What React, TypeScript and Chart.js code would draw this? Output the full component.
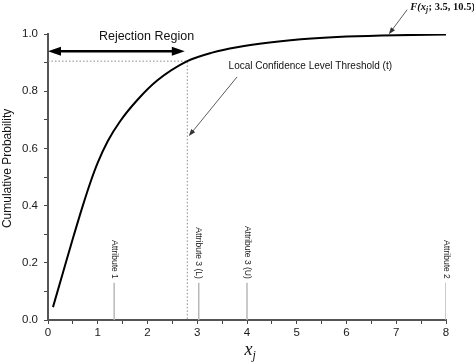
import React, { useEffect, useRef } from 'react';
import { Chart, registerables } from 'chart.js';

Chart.register(...registerables);

// ---- data ----
const curveX = [0.1, 0.3, 0.5, 0.7, 0.85, 1.0, 1.2, 1.45, 1.8, 2.2, 2.8, 3.3, 3.8, 4.5, 5.3, 6.0, 7.0, 8.0];
const curveY = [0.045, 0.165, 0.285, 0.40, 0.48, 0.55, 0.625, 0.695, 0.77, 0.838, 0.905, 0.935, 0.954, 0.971, 0.984, 0.991, 0.996, 0.998];

const thresholdX = 2.8;
const thresholdY = 0.905;

const attrNames = ['Attribute 1', 'Attribute 3 (L)', 'Attribute 3 (U)', 'Attribute 2'];
const attrX = [1.33, 3.03, 4.0, 8.0];
const attrTop = [0.13, 0.13, 0.13, 0.13];

const xTickLabels = ['0', '1', '2', '3', '4', '5', '6', '7', '8'];
const yTickLabels = ['0.0', '0.2', '0.4', '0.6', '0.8', '1.0'];

const yTitle = 'Cumulative Probability';
const rejectionLabel = 'Rejection Region';
const thresholdLabel = 'Local Confidence Level Threshold (t)';

const SANS = '"Liberation Sans", Arial, Helvetica, sans-serif';
const SERIF = '"Liberation Serif", "Times New Roman", serif';

function arrowHead(ctx: CanvasRenderingContext2D, x1: number, y1: number, x2: number, y2: number, len: number, half: number) {
  const a = Math.atan2(y2 - y1, x2 - x1);
  const bx = x2 - len * Math.cos(a);
  const by = y2 - len * Math.sin(a);
  ctx.beginPath();
  ctx.moveTo(x2, y2);
  ctx.lineTo(bx + half * Math.sin(a), by - half * Math.cos(a));
  ctx.lineTo(bx - half * Math.sin(a), by + half * Math.cos(a));
  ctx.closePath();
  ctx.fill();
}

function arrow(ctx: CanvasRenderingContext2D, x1: number, y1: number, x2: number, y2: number, len: number, half: number, lw: number, color: string) {
  const a = Math.atan2(y2 - y1, x2 - x1);
  ctx.strokeStyle = color;
  ctx.fillStyle = color;
  ctx.lineWidth = lw;
  ctx.beginPath();
  ctx.moveTo(x1, y1);
  ctx.lineTo(x2 - len * 0.8 * Math.cos(a), y2 - len * 0.8 * Math.sin(a));
  ctx.stroke();
  arrowHead(ctx, x1, y1, x2, y2, len, half);
}

const annotations = {
  id: 'annotations',
  afterDraw(chart: any) {
    const { ctx } = chart;
    const xs = chart.scales.x;
    const ys = chart.scales.y;
    const px = (v: number) => xs.getPixelForValue(v);
    const py = (v: number) => ys.getPixelForValue(v);
    ctx.save();

    // Rejection region double arrow
    const ay = py(0.94);
    const ax1 = px(0);
    const ax2 = px(2.75);
    ctx.strokeStyle = '#000';
    ctx.fillStyle = '#000';
    ctx.lineWidth = 2.5;
    ctx.beginPath();
    ctx.moveTo(ax1 + 8, ay);
    ctx.lineTo(ax2 - 8, ay);
    ctx.stroke();
    arrowHead(ctx, ax2, ay, ax1, ay, 13, 4.5);
    arrowHead(ctx, ax1, ay, ax2, ay, 13, 4.5);

    ctx.font = `12.5px ${SANS}`;
    ctx.fillStyle = '#111';
    ctx.textAlign = 'center';
    ctx.textBaseline = 'middle';
    ctx.fillText(rejectionLabel, px(1.98), py(0.99));

    // threshold label + arrow
    ctx.font = `10px ${SANS}`;
    ctx.textAlign = 'left';
    ctx.fillText(thresholdLabel, px(3.63), py(0.886));
    arrow(ctx, px(3.8), py(0.85), px(2.83), py(0.643), 7, 2.5, 0.8, '#333');

    // F label + arrow
    arrow(ctx, px(7.22), py(1.085), px(6.85), py(0.999), 7, 2.5, 0.8, '#333');
    let fx = px(7.28);
    const fy = py(1.094);
    ctx.fillStyle = '#111';
    ctx.textBaseline = 'middle';
    ctx.font = `italic bold 10.5px ${SERIF}`;
    const p1 = 'F(x';
    ctx.fillText(p1, fx, fy);
    fx += ctx.measureText(p1).width;
    ctx.font = `italic bold 7.5px ${SERIF}`;
    ctx.fillText('j', fx, fy + 3);
    fx += ctx.measureText('j').width + 0.5;
    ctx.font = `bold 10.5px ${SERIF}`;
    ctx.fillText('; 3.5, 10.5)', fx, fy);

    // attribute labels
    ctx.font = `8.5px ${SANS}`;
    ctx.fillStyle = '#222';
    for (let i = 0; i < attrNames.length; i++) {
      ctx.save();
      ctx.translate(px(attrX[i]), py(attrTop[i]) - 4);
      ctx.rotate(Math.PI / 2);
      ctx.textAlign = 'right';
      ctx.textBaseline = 'middle';
      ctx.fillText(attrNames[i], 0, 0);
      ctx.restore();
    }

    // y title
    ctx.save();
    ctx.translate(8, py(0.53));
    ctx.rotate(-Math.PI / 2);
    ctx.font = `12px ${SANS}`;
    ctx.fillStyle = '#111';
    ctx.textAlign = 'center';
    ctx.textBaseline = 'middle';
    ctx.fillText(yTitle, 0, 0);
    ctx.restore();

    // x title  x_j
    const tx = xs.getPixelForValue(3.95);
    const tyb = 355;
    ctx.fillStyle = '#111';
    ctx.textAlign = 'left';
    ctx.textBaseline = 'alphabetic';
    ctx.font = `italic 18px ${SERIF}`;
    ctx.fillText('x', tx, tyb);
    const w = ctx.measureText('x').width;
    ctx.font = `italic 12px ${SERIF}`;
    ctx.fillText('j', tx + w, tyb + 4);

    ctx.restore();
  },
};

export default function App() {
  const ref = useRef<HTMLCanvasElement | null>(null);

  useEffect(() => {
    if (!ref.current) return;
    Chart.defaults.font.family = SANS;

    const curve = curveX.map((x, i) => ({ x, y: curveY[i] }));
    const thr = [
      { x: 0, y: thresholdY },
      { x: thresholdX, y: thresholdY },
      { x: thresholdX, y: 0 },
    ];
    const attrSets = attrX.map((x, i) => ({
      label: attrNames[i],
      data: [{ x, y: 0 }, { x, y: attrTop[i] }],
      borderColor: '#b8b8b8',
      borderWidth: 1.5,
      pointRadius: 0,
      tension: 0,
      order: 2,
    }));

    const chart = new Chart(ref.current, {
      type: 'line',
      data: {
        datasets: [
          {
            label: 'F',
            data: curve,
            borderColor: '#000',
            borderWidth: 2,
            pointRadius: 0,
            cubicInterpolationMode: 'monotone',
            order: 0,
          },
          {
            label: 'threshold',
            data: thr,
            borderColor: '#8a8a8a',
            borderWidth: 1,
            borderDash: [1.5, 2],
            pointRadius: 0,
            tension: 0,
            order: 1,
          },
          ...attrSets,
        ] as any,
      },
      options: {
        animation: false,
        responsive: false,
        events: [],
        layout: { padding: { top: 34, right: 28, left: 0, bottom: 0 } },
        plugins: { legend: { display: false }, tooltip: { enabled: false } },
        scales: {
          x: {
            type: 'linear',
            min: 0,
            max: 8,
            afterFit: (s: any) => { s.height = 44; },
            ticks: {
              stepSize: 0.5,
              autoSkip: false,
              maxRotation: 0,
              padding: 2,
              color: '#1a1a1a',
              font: { size: 11.5 },
              callback: (v: any) => {
                const n = Number(v);
                return Number.isInteger(n) ? xTickLabels[n] : '';
              },
            },
            grid: { display: true, drawOnChartArea: false, drawTicks: true, tickLength: 4, color: '#444', lineWidth: 1 },
            border: { display: true, color: '#555', width: 2 },
          },
          y: {
            type: 'linear',
            min: 0,
            max: 1,
            afterFit: (s: any) => { s.width = 48; },
            ticks: {
              stepSize: 0.1,
              autoSkip: false,
              padding: 6,
              color: '#1a1a1a',
              font: { size: 11.5 },
              callback: (v: any) => {
                const k = Math.round(Number(v) * 10);
                return k % 2 === 0 ? yTickLabels[k / 2] : '';
              },
            },
            grid: { display: true, drawOnChartArea: false, drawTicks: true, tickLength: 4, color: '#444', lineWidth: 1 },
            border: { display: true, color: '#555', width: 2 },
          },
        },
      } as any,
      plugins: [annotations],
    });
    return () => chart.destroy();
  }, []);

  return (
    <div style={{ position: 'absolute', left: 0, top: 0, width: 474, height: 364, background: '#fff' }}>
      <canvas ref={ref} width={474} height={364} style={{ display: 'block' }} />
    </div>
  );
}
